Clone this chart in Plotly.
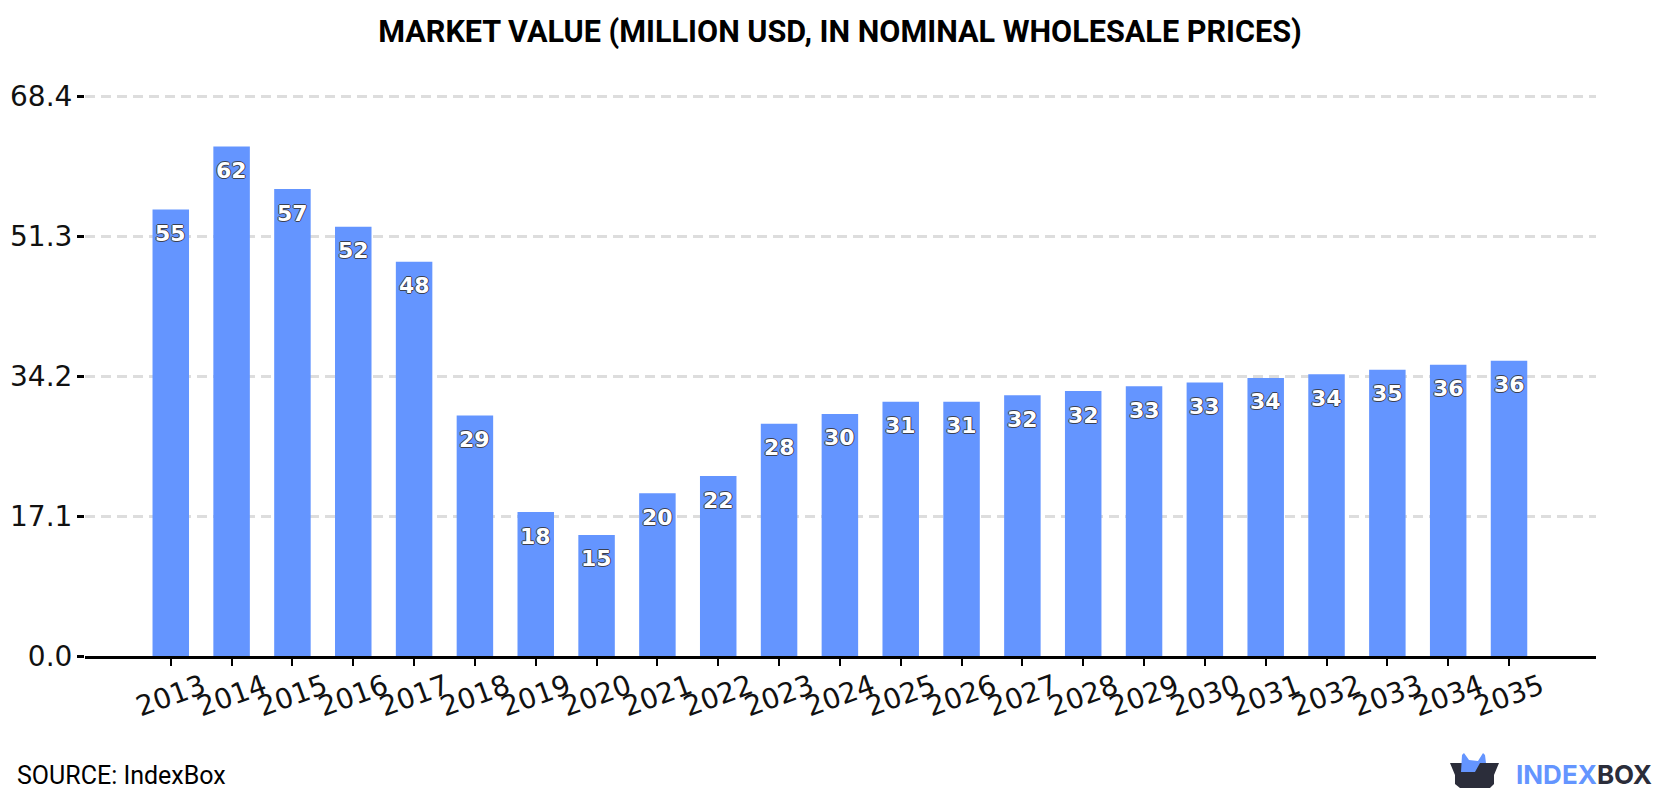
import plotly.graph_objects as go

TITLE = "MARKET VALUE (MILLION USD, IN NOMINAL WHOLESALE PRICES)"
SOURCE = "SOURCE: IndexBox"
years = ["2013", "2014", "2015", "2016", "2017", "2018", "2019", "2020", "2021", "2022", "2023", "2024",
         "2025", "2026", "2027", "2028", "2029", "2030", "2031", "2032", "2033", "2034", "2035"]
values = [54.6, 62.3, 57.1, 52.5, 48.2, 29.4, 17.6, 14.8, 19.9, 22.0, 28.4, 29.6,
          31.1, 31.1, 31.9, 32.4, 33.0, 33.45, 34.0, 34.45, 35.0, 35.6, 36.1]
y_ticks = [0.0, 17.1, 34.2, 51.3, 68.4]

W, H = 1680, 800
L, R, T, B = 85, 84, 95, 144
BLUE = "#6495ff"
DARK = "#2b2d3a"
OUTLINE = "#3c4150"


def px(x):
    return (x - L) / (W - L - R)


def py(y):
    return (H - B - y) / (H - T - B)


def path(points):
    return "M " + " L ".join(f"{px(x):.5f},{py(y):.5f}" for x, y in points) + " Z"


# Logo outlines, in page pixels
box_outline = [(1450, 763), (1499, 763), (1494, 775), (1494, 784), (1490, 788), (1460, 788), (1455, 784), (1455, 775)]
flap_outline = [(1461, 772), (1462, 755), (1464, 753), (1469, 760), (1478, 761), (1483, 753), (1485, 755),
                (1486, 763), (1480, 763), (1475, 772)]

shadow = ", ".join(f"{a}px {b}px 0 {OUTLINE}" for a, b in [(1, 0), (-1, 0), (0, 1), (0, -1)])

fig = go.Figure(go.Bar(
    x=years, y=values, width=0.6, marker=dict(color=BLUE, line=dict(width=0)), hoverinfo="x+y",
))

# Category axes read numeric-looking strings as positions, so labels are placed by index
annotations = [
    dict(x=i, y=v, xref="x", yref="y", text=f"{v:.0f}", showarrow=False, yshift=-24, yanchor="middle",
         font=dict(family="DejaVu Sans", size=22, color="white", weight="bold", shadow=shadow))
    for i, v in enumerate(values)
]
annotations += [
    dict(x=px(15), y=py(775), xref="paper", yref="paper", text=SOURCE, showarrow=False, xanchor="left",
         yanchor="middle", font=dict(family="Roboto", size=25, color="#000000")),
    dict(x=px(1514), y=py(774), xref="paper", yref="paper", showarrow=False, xanchor="left", yanchor="middle",
         text=f"<span style='color:{BLUE}'>INDEX</span><span style='color:{DARK}'>BOX</span>",
         font=dict(family="Inter", size=26, weight="bold")),
]

fig.update_layout(
    width=W, height=H, margin=dict(l=L, r=R, t=T, b=B, pad=0),
    paper_bgcolor="white", plot_bgcolor="white", showlegend=False, bargap=0.4,
    title=dict(text=f"<b>{TITLE}</b>", x=0.5, xanchor="center", y=1 - 31 / H, yanchor="middle",
               font=dict(family="Roboto", size=30.6, color="#000000")),
    annotations=annotations,
    shapes=[
        dict(type="path", xref="paper", yref="paper", path=path(box_outline), fillcolor=DARK, line=dict(width=0)),
        dict(type="path", xref="paper", yref="paper", path=path(flap_outline), fillcolor=BLUE, line=dict(width=0)),
    ],
)
fig.update_xaxes(
    type="category", categoryorder="array", categoryarray=years, range=[-1.41, 23.43], automargin=False,
    showgrid=False, showline=True, linecolor="#000000", linewidth=2.5, zeroline=False,
    ticks="outside", ticklen=7, tickwidth=2, tickcolor="#000000", tickangle=-20, ticklabelshift=32,
    ticklabelstandoff=-6,
    tickfont=dict(family="DejaVu Sans", size=28, color="#111111"),
)
fig.update_yaxes(
    range=[0, 68.6], tickvals=y_ticks, ticktext=[f"{t:.1f}" for t in y_ticks], automargin=False,
    showgrid=True, gridcolor="#dddddd", gridwidth=2.5, griddash="10px,6px", zeroline=False, showline=False,
    ticks="outside", ticklen=7, tickwidth=2.5, tickcolor="#000000", ticklabelstandoff=-1,
    tickfont=dict(family="DejaVu Sans", size=28, color="#111111"),
)

fig.write_html("out.html")
